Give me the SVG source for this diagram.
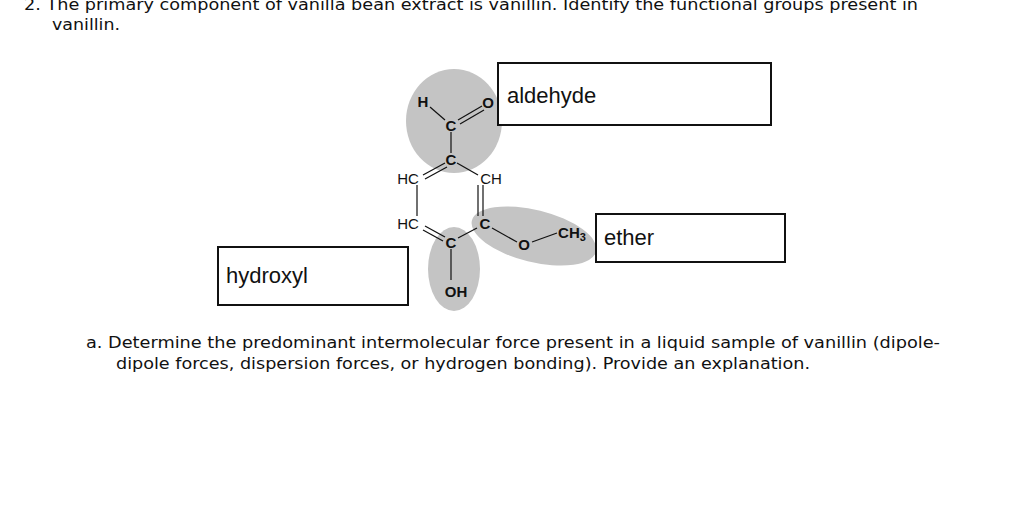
<svg xmlns="http://www.w3.org/2000/svg" width="1024" height="525" viewBox="0 0 1024 525">
<style>
.q{font-family:"DejaVu Sans",sans-serif;font-size:16px;fill:#111}
.lab{font-family:"Liberation Sans",Arial,sans-serif;font-size:22px;fill:#111}
.box{fill:#fff;stroke:#111;stroke-width:2}
.at{font-family:"Liberation Sans",Arial,sans-serif;font-size:15px;font-weight:bold;fill:#111;text-anchor:middle}
.atn{font-family:"Liberation Sans",Arial,sans-serif;font-size:15px;fill:#111;text-anchor:middle}
.b{stroke:#111;stroke-width:1.2;fill:none}
.hl{fill:#c4c4c4}
</style>
<rect width="1024" height="525" fill="#fff"/>
<text class="q" x="24" y="10" textLength="894" lengthAdjust="spacingAndGlyphs">2.   The primary component of vanilla bean extract is vanillin. Identify the functional groups present in</text>
<text class="q" x="52" y="30" textLength="68" lengthAdjust="spacingAndGlyphs">vanillin.</text>
<g id="highlights">
<ellipse class="hl" cx="454" cy="121" rx="48" ry="52"/>
<ellipse class="hl" cx="534" cy="236" rx="64" ry="26" transform="rotate(14 534 236)"/>
<ellipse class="hl" cx="454" cy="269" rx="26" ry="42"/>
</g>
<g id="connectors">
<line class="b" x1="430" y1="107" x2="445" y2="120"/>
<line class="b" x1="458" y1="120" x2="482" y2="106"/>
<line class="b" x1="460" y1="124" x2="484" y2="110"/>
<line class="b" x1="451" y1="132" x2="451" y2="153"/>
<line class="b" x1="445" y1="163" x2="423" y2="175"/>
<line class="b" x1="447" y1="167" x2="425" y2="179"/>
<line class="b" x1="457" y1="163" x2="478" y2="175"/>
<line class="b" x1="417" y1="185" x2="417" y2="216"/>
<line class="b" x1="478" y1="185" x2="478" y2="216"/>
<line class="b" x1="483" y1="185" x2="483" y2="216"/>
<line class="b" x1="425" y1="226" x2="445" y2="237"/>
<line class="b" x1="423" y1="230" x2="443" y2="241"/>
<line class="b" x1="477" y1="228" x2="458" y2="238"/>
<line class="b" x1="451" y1="249" x2="451" y2="280"/>
<line class="b" x1="492" y1="228" x2="517" y2="242"/>
<line class="b" x1="532" y1="242" x2="557" y2="233"/>
</g>
<g id="atoms">
<text class="at" x="423" y="107">H</text>
<text class="at" x="488" y="108">O</text>
<text class="at" x="451" y="131">C</text>
<text class="at" x="451" y="165">C</text>
<text class="atn" x="408" y="184">HC</text>
<text class="atn" x="491" y="184">CH</text>
<text class="atn" x="408" y="229">HC</text>
<text class="at" x="485" y="229">C</text>
<text class="at" x="451" y="248">C</text>
<text class="at" x="524" y="250">O</text>
<text class="at" x="572" y="238">CH<tspan font-size="11" dy="3">3</tspan></text>
<text class="at" x="456" y="297">OH</text>
</g>
<g id="aldehyde"><rect class="box" x="498" y="63" width="273" height="62"/><text class="lab" x="507" y="103">aldehyde</text></g>
<g id="ether"><rect class="box" x="596" y="214" width="189" height="48"/><text class="lab" x="604" y="245">ether</text></g>
<g id="hydroxyl"><rect class="box" x="218" y="247" width="190" height="58"/><text class="lab" x="226" y="283">hydroxyl</text></g>
<text class="q" x="86" y="348" textLength="854" lengthAdjust="spacingAndGlyphs">a.   Determine the predominant intermolecular force present in a liquid sample of vanillin (dipole-</text>
<text class="q" x="116" y="369" textLength="694" lengthAdjust="spacingAndGlyphs">dipole forces, dispersion forces, or hydrogen bonding).  Provide an explanation.</text>
</svg>
